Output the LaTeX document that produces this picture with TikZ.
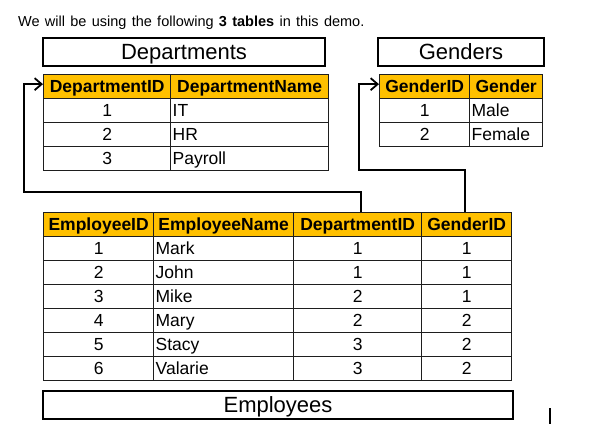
\documentclass[tikz,border=0pt]{standalone}
\usepackage{fontspec}
\setmainfont{Liberation Sans}
\usetikzlibrary{arrows.meta}
\definecolor{hdr}{RGB}{255,192,0}
\definecolor{grid}{RGB}{30,30,30}
\newcommand\tcell[7]{%
  \pgfmathsetmacro\cw{#4-#2-4}\pgfmathsetmacro\ch{#5-#3}%
  \node[tcell,#7,text width=\cw pt,minimum height=\ch pt,anchor=north west] (#1) at (#2,#3) {#6};}
\tikzset{
  tcell/.style={draw=grid,line width=1.3pt,inner xsep=2pt,inner ysep=0pt,
    text height=12.5pt,text depth=0pt,font=\fontsize{17.5}{18}\selectfont},
  hd/.style={fill=hdr,align=center,font=\bfseries\fontsize{17.5}{18}\selectfont},
  dc/.style={fill=white,align=center},
  dl/.style={fill=white,align=left},
  titlebox/.style={draw=black,line width=2pt,inner sep=0pt,text height=15.8pt,text depth=0pt,
    font=\fontsize{22}{24}\selectfont,anchor=north west},
  conn/.style={draw=black,line width=2pt},
  tip/.style={-{Straight Barb[length=7pt,width=12pt,line width=1.8pt]}}
}
\begin{document}
\begin{tikzpicture}[x=1pt,y=-1pt]
\useasboundingbox[fill=white] (0,0) rectangle (609,439);
% caption
\node[anchor=base west,inner sep=0pt,font=\fontsize{14.5}{16}\selectfont] (cap) at (18,26.5)
  {\spaceskip=5.3pt\relax We will be using the following \textbf{3 tables} in this demo.};
% title boxes
\node[titlebox,minimum width=282pt,minimum height=28pt] (tdep) at (42,37) {Departments};
\node[titlebox,minimum width=166pt,minimum height=28pt] (tgen) at (377,37) {Genders};
\node[titlebox,minimum width=470pt,minimum height=28pt] (temp) at (42,390) {Employees};
% Departments table
\tcell{dh1}{43}{74}{170}{98}{DepartmentID}{hd}
\tcell{dh2}{170}{74}{328}{98}{DepartmentName}{hd}
\foreach \i/\n [count=\r from 0] in {1/IT,2/HR,3/Payroll}{
  \pgfmathsetmacro\ya{98+24*\r}\pgfmathsetmacro\yb{122+24*\r}
  \tcell{d\i a}{43}{\ya}{170}{\yb}{\i}{dc}
  \tcell{d\i b}{170}{\ya}{328}{\yb}{\n}{dl}
}
% Genders table
\tcell{gh1}{379}{74}{469}{98}{GenderID}{hd}
\tcell{gh2}{469}{74}{542}{98}{Gender}{hd}
\foreach \i/\n [count=\r from 0] in {1/Male,2/Female}{
  \pgfmathsetmacro\ya{98+24*\r}\pgfmathsetmacro\yb{122+24*\r}
  \tcell{g\i a}{379}{\ya}{469}{\yb}{\i}{dc}
  \tcell{g\i b}{469}{\ya}{542}{\yb}{\n}{dl}
}
% Employees table
\tcell{eh1}{43}{212}{153}{236}{EmployeeID}{hd}
\tcell{eh2}{153}{212}{293}{236}{EmployeeName}{hd}
\tcell{eh3}{293}{212}{421}{236}{DepartmentID}{hd}
\tcell{eh4}{421}{212}{511}{236}{GenderID}{hd}
\foreach \i/\n/\d/\g [count=\r from 0] in {1/Mark/1/1,2/John/1/1,3/Mike/2/1,4/Mary/2/2,5/Stacy/3/2,6/Valarie/3/2}{
  \pgfmathsetmacro\ya{236+24*\r}\pgfmathsetmacro\yb{260+24*\r}
  \tcell{e\i a}{43}{\ya}{153}{\yb}{\i}{dc}
  \tcell{e\i b}{153}{\ya}{293}{\yb}{\n}{dl}
  \tcell{e\i c}{293}{\ya}{421}{\yb}{\d}{dc}
  \tcell{e\i d}{421}{\ya}{511}{\yb}{\g}{dc}
}
% connectors
\coordinate (c1) at (24,192);
\coordinate (c2) at (359,170);
\coordinate (da) at ([yshift=2.5pt]dh1.west);
\coordinate (ga) at ([yshift=2.5pt]gh1.west);
\coordinate (ds) at ([xshift=3pt]eh3.north);
\coordinate (gs) at ([xshift=-2pt]eh4.north);
\draw[conn,tip] (ds) |- (c1) -- (c1 |- da) -- (da);
\draw[conn,tip] (gs) |- (c2) -- (c2 |- ga) -- (ga);
% text cursor
\coordinate (k1) at (550,408);
\coordinate (k2) at (550,424);
\draw[line width=1.5pt] (k1) -- (k2);
\end{tikzpicture}
\end{document}
